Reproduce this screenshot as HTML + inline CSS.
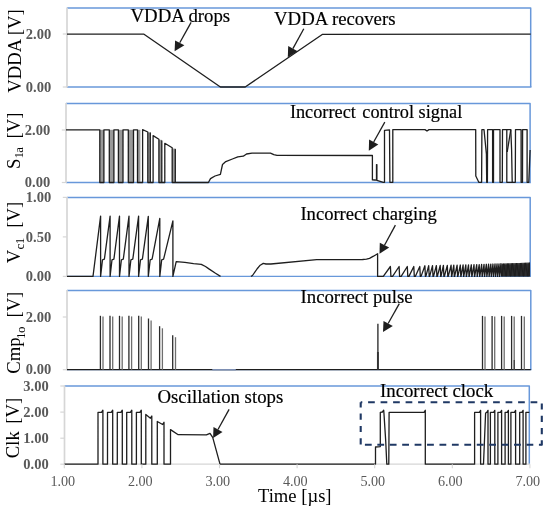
<!DOCTYPE html>
<html><head><meta charset="utf-8"><title>Waveforms</title>
<style>
html,body{margin:0;padding:0;background:#fff;}
svg{display:block;}
text{font-family:"Liberation Serif","Times New Roman",serif;}
.tl{font-size:14.5px;font-weight:bold;fill:#595959;text-anchor:end;}
.xl{font-size:14.2px;fill:#595959;text-anchor:middle;}
.an{font-size:18.8px;fill:#000;stroke:#000;stroke-width:0.18px;}
.yt{font-size:18.7px;fill:#000;}
.sub{font-size:13px;letter-spacing:-0.6px;}
</style></head>
<body>
<svg width="550" height="514" viewBox="0 0 550 514">
<rect width="550" height="514" fill="#fff"/>
<polyline points="67.00,8.00 530.70,8.00 530.70,87.00" fill="none" stroke="#6898da" stroke-width="1.5" stroke-linejoin="round"/>
<line x1="67.00" y1="87.00" x2="531.45" y2="87.00" stroke="#6898da" stroke-width="1.3" />
<line x1="67.00" y1="7.50" x2="67.00" y2="87.50" stroke="#d6d6d6" stroke-width="1.7" />
<line x1="62.80" y1="34.00" x2="67.00" y2="34.00" stroke="#d6d6d6" stroke-width="1.2" />
<text x="51.20" y="38.60" class="tl">2.00</text>
<line x1="62.80" y1="87.00" x2="67.00" y2="87.00" stroke="#d6d6d6" stroke-width="1.2" />
<text x="51.20" y="91.60" class="tl">0.00</text>
<polyline points="66.00,103.50 530.10,103.50 530.10,182.50" fill="none" stroke="#6898da" stroke-width="1.5" stroke-linejoin="round"/>
<line x1="66.00" y1="182.50" x2="530.85" y2="182.50" stroke="#6898da" stroke-width="1.3" />
<line x1="66.00" y1="103.00" x2="66.00" y2="183.00" stroke="#d6d6d6" stroke-width="1.7" />
<line x1="61.80" y1="130.00" x2="66.00" y2="130.00" stroke="#d6d6d6" stroke-width="1.2" />
<text x="50.20" y="134.60" class="tl">2.00</text>
<line x1="61.80" y1="182.50" x2="66.00" y2="182.50" stroke="#d6d6d6" stroke-width="1.2" />
<text x="50.20" y="187.10" class="tl">0.00</text>
<polyline points="67.00,197.40 530.20,197.40 530.20,276.40" fill="none" stroke="#6898da" stroke-width="1.5" stroke-linejoin="round"/>
<line x1="67.00" y1="276.40" x2="530.95" y2="276.40" stroke="#6898da" stroke-width="1.3" />
<line x1="67.00" y1="196.90" x2="67.00" y2="276.90" stroke="#d6d6d6" stroke-width="1.7" />
<line x1="62.80" y1="197.40" x2="67.00" y2="197.40" stroke="#d6d6d6" stroke-width="1.2" />
<text x="51.20" y="202.00" class="tl">1.00</text>
<line x1="62.80" y1="236.90" x2="67.00" y2="236.90" stroke="#d6d6d6" stroke-width="1.2" />
<text x="51.20" y="241.50" class="tl">0.50</text>
<line x1="62.80" y1="276.40" x2="67.00" y2="276.40" stroke="#d6d6d6" stroke-width="1.2" />
<text x="51.20" y="281.00" class="tl">0.00</text>
<polyline points="67.00,290.50 530.80,290.50 530.80,369.70" fill="none" stroke="#6898da" stroke-width="1.5" stroke-linejoin="round"/>
<line x1="67.00" y1="369.70" x2="531.55" y2="369.70" stroke="#6898da" stroke-width="1.3" />
<line x1="67.00" y1="290.00" x2="67.00" y2="370.20" stroke="#d6d6d6" stroke-width="1.7" />
<line x1="62.80" y1="317.00" x2="67.00" y2="317.00" stroke="#d6d6d6" stroke-width="1.2" />
<text x="51.20" y="321.60" class="tl">2.00</text>
<line x1="62.80" y1="369.70" x2="67.00" y2="369.70" stroke="#d6d6d6" stroke-width="1.2" />
<text x="51.20" y="374.30" class="tl">0.00</text>
<polyline points="64.50,386.00 529.30,386.00 529.30,464.20" fill="none" stroke="#6898da" stroke-width="1.5" stroke-linejoin="round"/>
<line x1="64.50" y1="464.20" x2="530.05" y2="464.20" stroke="#d6d6d6" stroke-width="1.3" />
<line x1="64.50" y1="385.50" x2="64.50" y2="464.70" stroke="#d6d6d6" stroke-width="1.7" />
<line x1="60.30" y1="386.00" x2="64.50" y2="386.00" stroke="#d6d6d6" stroke-width="1.2" />
<text x="48.70" y="390.60" class="tl">3.00</text>
<line x1="60.30" y1="412.10" x2="64.50" y2="412.10" stroke="#d6d6d6" stroke-width="1.2" />
<text x="48.70" y="416.70" class="tl">2.00</text>
<line x1="60.30" y1="438.20" x2="64.50" y2="438.20" stroke="#d6d6d6" stroke-width="1.2" />
<text x="48.70" y="442.80" class="tl">1.00</text>
<line x1="60.30" y1="464.20" x2="64.50" y2="464.20" stroke="#d6d6d6" stroke-width="1.2" />
<text x="48.70" y="468.80" class="tl">0.00</text>
<polyline points="67.00,34.20 144.00,34.20 220.40,87.00 245.20,87.00 322.60,34.30 530.70,34.20" fill="none" stroke="#1e1e1e" stroke-width="1.3" stroke-linejoin="round" />
<polyline points="510.80,129.60 507.20,152.00" fill="none" stroke="#1e1e1e" stroke-width="1.3" stroke-linejoin="round" />
<polyline points="506.80,129.60 506.80,182.30 512.20,182.30" fill="none" stroke="#1e1e1e" stroke-width="1.3" stroke-linejoin="round" />
<rect x="99.80" y="129.80" width="4.10" height="52.70" fill="#999999"/>
<rect x="109.30" y="129.80" width="4.60" height="52.70" fill="#999999"/>
<rect x="118.40" y="129.80" width="4.60" height="52.70" fill="#999999"/>
<rect x="128.30" y="129.80" width="5.20" height="52.70" fill="#999999"/>
<rect x="137.50" y="129.80" width="2.90" height="52.70" fill="#999999"/>
<rect x="147.80" y="132.40" width="2.50" height="50.10" fill="#999999"/>
<rect x="158.90" y="139.80" width="2.90" height="42.70" fill="#999999"/>
<rect x="172.20" y="148.50" width="3.10" height="34.00" fill="#999999"/>
<polyline points="66.00,129.80 99.80,129.80 99.80,182.50 103.90,182.50 103.90,129.80 109.30,129.80 109.30,182.50 113.90,182.50 113.90,129.80 118.40,129.80 118.40,182.50 123.00,182.50 123.00,129.80 128.30,129.80 128.30,182.50 133.50,182.50 133.50,129.80 137.50,129.80 137.50,182.50 140.40,182.50 140.40,182.50 142.60,182.50 142.60,129.70 147.80,132.00 147.80,182.50 150.30,182.50 150.30,132.90 150.30,182.50 153.10,182.50 153.10,135.60 158.90,139.20 158.90,182.50 161.80,182.50 161.80,140.80 161.80,182.50 164.80,182.50 164.80,143.30 172.20,147.80 172.20,182.50 175.30,182.50 175.30,149.50 175.30,182.50 208.40,182.50 210.50,178.60 215.00,176.00 220.40,174.30 222.50,164.50 225.80,161.60 232.40,159.00 237.80,156.80 243.30,156.20 246.50,154.00 252.00,153.10 270.50,153.10 273.80,154.60 277.00,155.30 372.40,155.50 372.40,179.90 374.60,180.00 376.50,180.20 376.50,164.60 376.90,164.60 376.90,180.30 383.30,182.30 384.50,182.30 384.50,130.30 389.50,129.90 389.90,182.30 392.80,182.30 392.80,129.60 425.00,129.60 427.00,131.00 429.00,129.60 475.70,129.60 475.80,176.00 478.80,182.30 481.60,182.30 481.90,129.60 484.00,129.60 486.40,154.00 486.70,182.30 487.40,182.30 487.60,129.60 492.60,129.60 492.60,182.30 493.50,182.30 493.50,129.60 500.00,129.60 500.00,182.30 502.30,182.30 502.50,129.60 510.80,129.60 511.60,150.00 512.20,182.30 515.30,182.30 515.50,129.60 521.10,129.60 521.10,182.30 522.50,182.30 522.60,129.60 527.10,129.60 527.10,182.30 528.80,182.30 530.10,150.00" fill="none" stroke="#1e1e1e" stroke-width="1.3" stroke-linejoin="round" />
<polyline points="67.00,276.40 93.00,276.40 100.60,216.10 100.60,276.40 102.50,259.80 104.40,259.20 110.10,216.10 110.10,276.40 112.00,259.80 113.90,259.20 119.50,216.10 119.50,276.40 121.40,259.80 123.30,259.20 129.00,216.10 129.00,276.40 130.90,259.80 132.80,259.20 138.60,216.10 138.60,276.40 140.50,259.80 142.40,259.20 148.30,216.30 148.30,276.40 150.20,259.80 152.10,259.20 159.80,218.40 159.80,276.40 161.70,259.80 163.60,259.20 172.90,220.90 172.90,276.40 176.20,261.70 184.90,262.40 193.60,263.70 201.30,264.30 205.50,266.50 208.90,268.90 215.50,273.30 220.50,276.40" fill="none" stroke="#1e1e1e" stroke-width="1.3" stroke-linejoin="round" />
<polyline points="251.00,276.40 252.50,275.50 257.00,269.00 260.20,265.20 263.30,263.40 266.00,264.00 270.90,264.00 316.70,259.60 362.60,259.50 366.50,259.10 369.50,258.30 373.50,256.20 377.60,253.70 377.60,276.40 383.10,276.40 383.30,276.40 390.40,266.50 390.90,276.40 392.57,276.40 399.10,266.50 399.60,276.40 401.15,276.40 407.30,266.50 407.80,276.40 408.93,276.40 413.80,266.50 414.30,276.40 415.30,276.40 419.80,266.50 420.30,276.40 421.07,276.40 424.90,265.79 425.40,276.40 425.85,276.40 428.70,265.71 429.20,276.40 429.65,276.40 432.50,265.63 433.00,276.40 433.48,276.40 436.40,265.54 436.90,276.40 437.35,276.40 440.20,265.46 440.70,276.40 441.00,276.40 443.40,265.39 443.90,276.40 444.38,276.40 447.30,265.30 447.80,276.40 448.25,276.40 451.10,265.22 451.60,276.40 451.78,276.40 453.80,265.16 454.30,276.40 454.62,276.40 457.10,265.09 457.60,276.40 457.90,276.40 460.30,265.02 460.80,276.40 461.00,276.40 463.10,264.96 463.60,276.40 463.78,276.40 465.80,264.90 466.30,276.40 466.48,276.40 468.50,264.84 469.00,276.40 469.20,276.40 471.30,264.78 471.80,276.40 471.98,276.40 474.00,264.72 474.50,276.40 474.68,276.40 476.70,264.64 477.20,276.40 477.32,276.40 479.20,264.54 479.70,276.40 479.81,276.40 481.64,264.45 482.14,276.40 482.24,276.40 484.02,264.36 484.52,276.40 484.60,276.40 486.34,264.27 486.84,276.40 486.90,276.40 488.60,264.18 489.10,276.40 489.15,276.40 490.80,264.10 491.30,276.40 491.33,276.40 492.94,264.02 493.44,276.40 493.46,276.40 495.02,263.94 495.52,276.40 495.52,276.40 497.04,263.86 497.54,276.40 497.53,276.40 499.00,263.78 499.50,276.40 499.47,276.40 500.90,263.71 501.40,276.40" fill="none" stroke="#1e1e1e" stroke-width="1.3" stroke-linejoin="round" />
<polyline points="501.40,276.40 502.20,263.66 502.70,276.40 503.50,263.61 504.00,276.40 504.80,263.56 505.30,276.40 506.10,263.51 506.60,276.40 507.40,263.46 507.90,276.40 508.70,263.41 509.20,276.40 510.00,263.36 510.50,276.40 511.30,263.31 511.80,276.40 512.60,263.26 513.10,276.40 513.90,263.21 514.40,276.40 515.20,263.17 515.70,276.40 516.50,263.12 517.00,276.40 517.80,263.07 518.30,276.40 519.10,263.02 519.60,276.40 520.40,262.97 520.90,276.40 521.70,262.92 522.20,276.40 523.00,262.87 523.50,276.40 524.30,262.82 524.80,276.40 525.60,262.77 526.10,276.40 526.90,262.72 527.40,276.40 528.20,262.67 528.70,276.40 529.50,262.62 529.60,276.40" fill="none" stroke="#1e1e1e" stroke-width="1.0" stroke-linejoin="round" />
<polygon points="501.40,276.40 501.40,265.19 529.6,264.12 529.6,276.40" fill="#1e1e1e" opacity="0.55"/>
<polyline points="67.00,369.70 530.80,369.70" fill="none" stroke="#1e1e1e" stroke-width="1.3" stroke-linejoin="round" />
<line x1="212.30" y1="369.70" x2="235.80" y2="369.70" stroke="#7d8fb3" stroke-width="1.4" />
<line x1="100.40" y1="315.80" x2="100.40" y2="369.70" stroke="#2a2a2a" stroke-width="1.3" />
<line x1="103.00" y1="316.40" x2="103.00" y2="369.70" stroke="#6e6e6e" stroke-width="1.3" />
<line x1="110.00" y1="315.80" x2="110.00" y2="369.70" stroke="#2a2a2a" stroke-width="1.3" />
<line x1="112.70" y1="316.40" x2="112.70" y2="369.70" stroke="#6e6e6e" stroke-width="1.3" />
<line x1="119.50" y1="315.80" x2="119.50" y2="369.70" stroke="#2a2a2a" stroke-width="1.3" />
<line x1="122.20" y1="316.40" x2="122.20" y2="369.70" stroke="#6e6e6e" stroke-width="1.3" />
<line x1="128.90" y1="315.80" x2="128.90" y2="369.70" stroke="#2a2a2a" stroke-width="1.3" />
<line x1="131.60" y1="316.40" x2="131.60" y2="369.70" stroke="#6e6e6e" stroke-width="1.3" />
<line x1="138.70" y1="315.80" x2="138.70" y2="369.70" stroke="#2a2a2a" stroke-width="1.3" />
<line x1="141.30" y1="316.40" x2="141.30" y2="369.70" stroke="#6e6e6e" stroke-width="1.3" />
<line x1="148.50" y1="318.50" x2="148.50" y2="369.70" stroke="#2a2a2a" stroke-width="1.3" />
<line x1="151.10" y1="320.60" x2="151.10" y2="369.70" stroke="#6e6e6e" stroke-width="1.3" />
<line x1="159.60" y1="326.20" x2="159.60" y2="369.70" stroke="#2a2a2a" stroke-width="1.3" />
<line x1="162.40" y1="328.30" x2="162.40" y2="369.70" stroke="#6e6e6e" stroke-width="1.3" />
<line x1="172.70" y1="335.20" x2="172.70" y2="369.70" stroke="#2a2a2a" stroke-width="1.3" />
<line x1="175.50" y1="337.20" x2="175.50" y2="369.70" stroke="#6e6e6e" stroke-width="1.3" />
<line x1="482.50" y1="315.90" x2="482.50" y2="369.70" stroke="#2a2a2a" stroke-width="1.3" />
<line x1="485.00" y1="316.40" x2="485.00" y2="369.70" stroke="#6e6e6e" stroke-width="1.3" />
<line x1="492.10" y1="315.90" x2="492.10" y2="369.70" stroke="#2a2a2a" stroke-width="1.3" />
<line x1="494.70" y1="316.40" x2="494.70" y2="369.70" stroke="#6e6e6e" stroke-width="1.3" />
<line x1="501.60" y1="315.90" x2="501.60" y2="369.70" stroke="#2a2a2a" stroke-width="1.3" />
<line x1="504.20" y1="316.40" x2="504.20" y2="369.70" stroke="#6e6e6e" stroke-width="1.3" />
<line x1="511.60" y1="315.90" x2="511.60" y2="369.70" stroke="#2a2a2a" stroke-width="1.3" />
<line x1="514.20" y1="316.40" x2="514.20" y2="369.70" stroke="#6e6e6e" stroke-width="1.3" />
<line x1="521.50" y1="315.90" x2="521.50" y2="369.70" stroke="#2a2a2a" stroke-width="1.3" />
<line x1="524.30" y1="316.40" x2="524.30" y2="369.70" stroke="#6e6e6e" stroke-width="1.3" />
<line x1="377.90" y1="323.80" x2="377.90" y2="369.70" stroke="#333" stroke-width="1.4" />
<line x1="377.90" y1="352.00" x2="377.90" y2="369.70" stroke="#333" stroke-width="1.9" />
<line x1="514.20" y1="360.00" x2="514.20" y2="369.70" stroke="#2a2a2a" stroke-width="1.0" />
<line x1="521.50" y1="357.00" x2="521.50" y2="369.70" stroke="#2a2a2a" stroke-width="1.0" />
<polyline points="64.50,464.20 98.00,464.20 98.00,412.40 101.50,412.40 102.90,410.20 102.90,464.20 107.50,464.20 107.50,412.40 111.30,412.40 112.70,410.20 112.70,464.20 117.30,464.20 117.30,412.40 120.90,412.40 122.30,410.20 122.30,464.20 126.70,464.20 126.70,412.40 130.40,412.40 131.80,410.20 131.80,464.20 136.40,464.20 136.40,412.40 139.90,412.40 141.30,410.20 141.30,464.20 145.80,464.20 145.80,414.50 150.40,418.20 151.80,416.00 151.80,464.20 157.30,464.20 157.30,421.50 162.60,424.50 164.00,422.30 164.00,464.20 170.50,464.20 170.50,429.60 178.20,434.70 206.40,434.90 210.00,433.30 212.70,437.30 220.00,464.20 375.50,464.20 375.50,447.00 380.30,446.60 380.30,412.40 382.40,412.00 383.70,410.20 383.90,412.50 385.70,440.90 386.80,464.20 388.80,464.20 389.10,412.40 424.00,412.40 425.30,410.30 425.30,464.20 474.60,464.20 474.60,412.40 479.40,412.40 480.60,410.40 480.60,464.20 483.50,464.20 485.60,413.00 486.80,412.40 488.00,410.40 488.00,464.20 490.40,464.20 490.40,412.40 493.60,412.40 494.80,410.40 494.80,464.20 497.90,464.20 497.90,412.40 500.40,412.40 501.60,410.40 501.60,464.20 505.10,464.20 505.10,412.40 507.20,412.40 508.40,410.40 508.40,464.20 510.90,464.20 510.90,412.40 514.40,412.40 515.60,410.40 515.60,464.20 519.70,464.20 519.70,412.40 521.90,412.40 523.10,410.40 523.10,464.20 525.90,464.20 525.90,412.40 529.30,412.40" fill="none" stroke="#1e1e1e" stroke-width="1.3" stroke-linejoin="round" />
<text x="130.5" y="21.6" class="an">VDDA drops</text>
<line x1="191.10" y1="22.40" x2="179.75" y2="42.80" stroke="#1e1e1e" stroke-width="1.3" />
<polygon points="174.60,51.30 175.10,40.40 184.40,45.20" fill="#1e1e1e"/>
<text x="274.0" y="24.9" class="an">VDDA recovers</text>
<line x1="303.80" y1="28.70" x2="292.90" y2="48.65" stroke="#1e1e1e" stroke-width="1.3" />
<polygon points="287.80,57.30 288.20,46.10 297.60,51.20" fill="#1e1e1e"/>
<text x="289.9" y="117.8" class="an" style="font-size:18.3px">Incorrect</text><text x="362.3" y="117.8" class="an" style="font-size:18.3px">control</text><text x="418.6" y="117.8" class="an" style="font-size:18.3px">signal</text>
<line x1="384.80" y1="122.10" x2="373.70" y2="141.95" stroke="#1e1e1e" stroke-width="1.3" />
<polygon points="368.80,150.70 369.10,139.40 378.30,144.50" fill="#1e1e1e"/>
<text x="300.4" y="219.9" class="an" style="font-size:18.6px">Incorrect charging</text>
<line x1="395.40" y1="225.10" x2="384.50" y2="245.20" stroke="#1e1e1e" stroke-width="1.3" />
<polygon points="379.50,253.70 379.80,242.80 389.20,247.60" fill="#1e1e1e"/>
<text x="300.5" y="302.6" class="an">Incorrect pulse</text>
<line x1="399.30" y1="303.60" x2="388.15" y2="323.50" stroke="#1e1e1e" stroke-width="1.3" />
<polygon points="383.00,332.00 383.50,321.10 392.80,325.90" fill="#1e1e1e"/>
<text x="157.5" y="403.0" class="an">Oscillation stops</text>
<line x1="229.10" y1="409.40" x2="218.00" y2="429.50" stroke="#1e1e1e" stroke-width="1.3" />
<polygon points="213.10,438.00 213.50,427.10 222.50,431.90" fill="#1e1e1e"/>
<text x="380.0" y="397.0" class="an">Incorrect clock</text>
<line x1="360.70" y1="402.30" x2="541.80" y2="402.30" stroke="#1f3864" stroke-width="2.1" stroke-dasharray="6.7 5.8" stroke-dashoffset="5.1"/>
<line x1="360.70" y1="402.30" x2="360.70" y2="444.80" stroke="#1f3864" stroke-width="2.1" stroke-dasharray="6.2 6.1" stroke-dashoffset="1"/>
<line x1="360.70" y1="444.80" x2="541.80" y2="444.80" stroke="#1f3864" stroke-width="2.1" stroke-dasharray="6.8 5.63" stroke-dashoffset="8.23"/>
<line x1="541.80" y1="402.30" x2="541.80" y2="445.40" stroke="#1f3864" stroke-width="2.1" stroke-dasharray="6.2 6.1" stroke-dashoffset="11.2"/>
<text transform="rotate(-90)" x="-92.80" y="20.90" class="yt">VDDA [V]</text>
<text transform="rotate(-90)" x="-168.90" y="19.80" class="yt">S</text>
<text transform="rotate(-90)" x="-158.60" y="22.60" class="yt sub">1a</text>
<text transform="rotate(-90)" x="-138.40" y="19.80" class="yt">[V]</text>
<text transform="rotate(-90)" x="-263.20" y="19.80" class="yt">V</text>
<text transform="rotate(-90)" x="-249.40" y="23.70" class="yt sub">c1</text>
<text transform="rotate(-90)" x="-227.80" y="20.30" class="yt">[V]</text>
<text transform="rotate(-90)" x="-373.80" y="20.30" class="yt">Cmp</text>
<text transform="rotate(-90)" x="-339.00" y="24.50" class="yt sub">1o</text>
<text transform="rotate(-90)" x="-317.60" y="20.30" class="yt">[V]</text>
<text transform="rotate(-90)" x="-458.20" y="19.00" class="yt">Clk</text>
<text transform="rotate(-90)" x="-423.80" y="19.00" class="yt">[V]</text>
<text x="62.80" y="485.8" class="xl">1.00</text>
<text x="140.30" y="485.8" class="xl">2.00</text>
<text x="217.80" y="485.8" class="xl">3.00</text>
<text x="295.30" y="485.8" class="xl">4.00</text>
<text x="372.80" y="485.8" class="xl">5.00</text>
<text x="450.30" y="485.8" class="xl">6.00</text>
<text x="527.80" y="485.8" class="xl">7.00</text>
<line x1="64.30" y1="464.20" x2="64.30" y2="468.20" stroke="#d6d6d6" stroke-width="1.1" />
<line x1="141.90" y1="464.20" x2="141.90" y2="468.20" stroke="#d6d6d6" stroke-width="1.1" />
<line x1="219.50" y1="464.20" x2="219.50" y2="468.20" stroke="#d6d6d6" stroke-width="1.1" />
<line x1="297.10" y1="464.20" x2="297.10" y2="468.20" stroke="#d6d6d6" stroke-width="1.1" />
<line x1="374.70" y1="464.20" x2="374.70" y2="468.20" stroke="#d6d6d6" stroke-width="1.1" />
<line x1="452.30" y1="464.20" x2="452.30" y2="468.20" stroke="#d6d6d6" stroke-width="1.1" />
<line x1="529.90" y1="464.20" x2="529.90" y2="468.20" stroke="#d6d6d6" stroke-width="1.1" />
<text x="258.0" y="501.9" class="an" style="stroke:none;font-size:18.6px">Time [µs]</text>
</svg>
</body></html>
